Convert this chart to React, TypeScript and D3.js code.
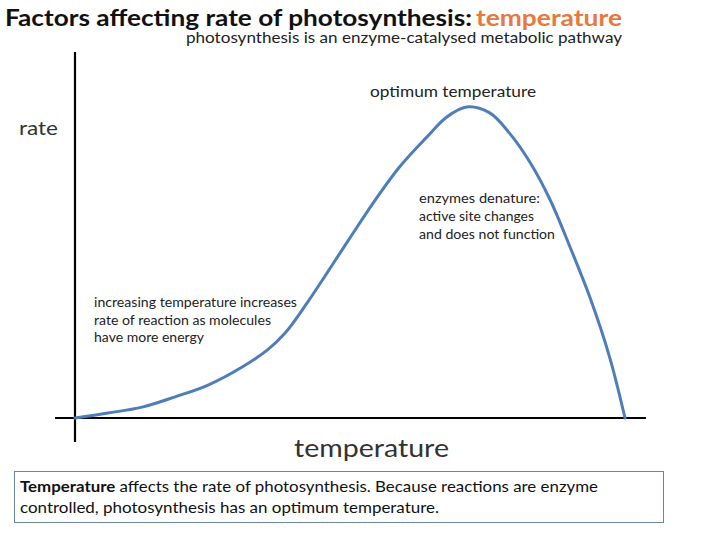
import React from "react";
import * as d3 from "d3";

const temperatures = [0, 3, 6.1, 9.1, 12.1, 15.2, 17.5, 19.1, 21.1, 24.7, 27.1, 29.5, 32, 33.8, 35.6, 37.7, 39.5, 41.4, 43.2, 45, 46.8, 48.6, 50];
const rates = [0, 1.6, 3.5, 6.8, 10.6, 16.4, 21.9, 27.3, 37, 56.3, 69.1, 80.7, 90.4, 96.8, 100, 98.1, 91.6, 82, 70.1, 55, 38.9, 19.6, 0];

const titleMain = "Factors affecting rate of photosynthesis: ";
const titleHighlight = "temperature";
const subtitle = "photosynthesis is an enzyme-catalysed metabolic pathway";
const yLabel = "rate";
const xLabel = "temperature";
const peakNote = "optimum temperature";
const denatureNote = ["enzymes denature:", "active site changes", "and does not function"];
const denatureWidths = [121, 115, 136];
const increaseNote = ["increasing temperature increases", "rate of reaction as molecules", "have more energy"];
const increaseWidths = [203, 177, 110];
const captionBold = "Temperature";
const captionLine1 = " affects the rate of photosynthesis. Because reactions are enzyme";
const captionLine2 = "controlled, photosynthesis has an optimum temperature.";

const W = 720;
const H = 540;
const FONT = "Lato, 'Open Sans', sans-serif";

export default function App() {
  const x = d3.scaleLinear().domain([0, 50]).range([75, 625]);
  const y = d3.scaleLinear().domain([0, 100]).range([418, 107]);
  const data = temperatures.map((t, i) => [t, rates[i]] as [number, number]);
  const line = d3
    .line<[number, number]>()
    .x((d) => x(d[0]))
    .y((d) => y(d[1]))
    .curve(d3.curveCatmullRom.alpha(0.5));

  return (
    <svg
      width={W}
      height={H}
      style={{ position: "absolute", left: 0, top: 0, background: "#fff" }}
      fontFamily={FONT}
    >
      <rect x={0} y={0} width={W} height={H} fill="#fff" />
      <text x={5} y={26} fontSize={23} fontWeight="bold" fill="#111" textLength={467} lengthAdjust="spacingAndGlyphs">
        {titleMain}
      </text>
      <text x={476} y={26} fontSize={23} fontWeight="bold" fill="#E8783D" textLength={146} lengthAdjust="spacingAndGlyphs">
        {titleHighlight}
      </text>
      <text x={186} y={43} fontSize={15} fill="#222" textLength={436} lengthAdjust="spacingAndGlyphs">
        {subtitle}
      </text>

      {/* axes */}
      <line x1={75} y1={52} x2={75} y2={442} stroke="#000" strokeWidth={2.2} />
      <line x1={55} y1={418} x2={646} y2={418} stroke="#000" strokeWidth={2.2} />

      <text x={19} y={135} fontSize={20} fill="#333" textLength={39} lengthAdjust="spacingAndGlyphs">
        {yLabel}
      </text>
      <text x={294} y={457} fontSize={25} fill="#333" textLength={155} lengthAdjust="spacingAndGlyphs">
        {xLabel}
      </text>

      <path d={line(data) || ""} fill="none" stroke="#4F7DB8" strokeWidth={3} strokeLinecap="round" />

      <text x={370} y={97} fontSize={16} fill="#222" textLength={166} lengthAdjust="spacingAndGlyphs">
        {peakNote}
      </text>
      {denatureNote.map((s, i) => (
        <text key={s} x={419} y={203 + i * 18} fontSize={13} fill="#222" textLength={denatureWidths[i]} lengthAdjust="spacingAndGlyphs">
          {s}
        </text>
      ))}
      {increaseNote.map((s, i) => (
        <text key={s} x={94} y={307 + i * 17.5} fontSize={13} fill="#222" textLength={increaseWidths[i]} lengthAdjust="spacingAndGlyphs">
          {s}
        </text>
      ))}

      <rect x={14.5} y={471.5} width={649} height={51} fill="#fff" stroke="#6A86A3" strokeWidth={1} />
      <text x={20} y={492} fontSize={15} fill="#111" textLength={578} lengthAdjust="spacingAndGlyphs">
        <tspan fontWeight="bold">{captionBold}</tspan>
        <tspan>{captionLine1}</tspan>
      </text>
      <text x={20} y={513} fontSize={15} fill="#111" textLength={419} lengthAdjust="spacingAndGlyphs">
        {captionLine2}
      </text>
    </svg>
  );
}
